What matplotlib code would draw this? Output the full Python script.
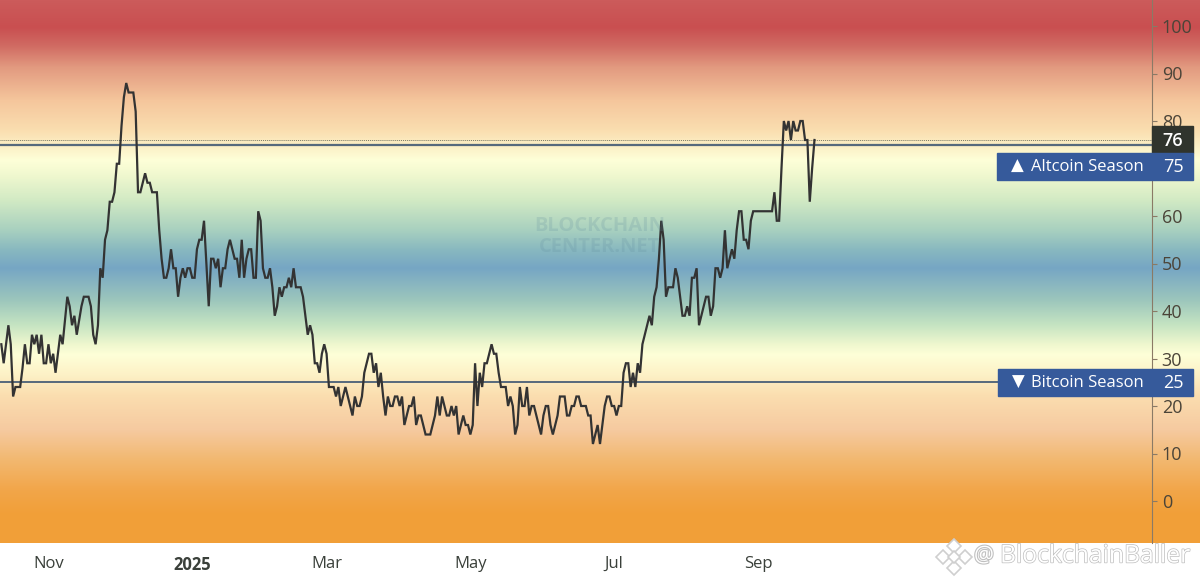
import numpy as np
import matplotlib
matplotlib.use('Agg')
import matplotlib.pyplot as plt
import matplotlib.patheffects as pe
from matplotlib.colors import LinearSegmentedColormap
from matplotlib.patches import Rectangle

plt.rcParams['font.family'] = ['Open Sans', 'DejaVu Sans']

# altcoin season index, one value per bar
index_values = [
    33, 29, 33, 37, 33, 22, 24, 24, 24, 28, 33, 29, 29, 35, 33, 35, 31, 35, 29, 29,
    33, 29, 31, 27, 31, 35, 33, 38, 43, 41, 37, 39, 35, 38, 41, 43, 43, 43, 41, 35,
    33, 37, 49, 47, 55, 57, 63, 63, 65, 71, 71, 79, 85, 88, 86, 86, 86, 82, 65, 65,
    67, 69, 67, 67, 65, 65, 65, 57, 51, 47, 47, 49, 53, 49, 49, 43, 47, 49, 47, 49,
    49, 47, 47, 53, 55, 55, 59, 50, 41, 51, 51, 49, 51, 45, 49, 49, 53, 55, 53, 51,
    51, 47, 55, 47, 51, 53, 53, 47, 47, 61, 59, 49, 47, 47, 49, 45, 39, 41, 45, 43,
    45, 45, 47, 45, 49, 45, 45, 45, 43, 39, 35, 37, 35, 29, 29, 27, 31, 33, 31, 24,
    24, 24, 22, 24, 20, 22, 24, 22, 20, 18, 22, 20, 20, 22, 27, 29, 31, 31, 27, 29,
    24, 27, 22, 18, 22, 20, 20, 22, 22, 20, 22, 16, 18, 20, 20, 22, 16, 18, 18, 16,
    14, 14, 14, 16, 18, 22, 18, 22, 20, 18, 18, 20, 18, 20, 14, 16, 18, 16, 16, 14,
    16, 29, 20, 27, 24, 29, 29, 31, 33, 31, 31, 27, 24, 24, 24, 20, 22, 20, 14, 16,
    24, 20, 20, 24, 18, 20, 20, 18, 16, 14, 18, 20, 20, 16, 14, 16, 18, 22, 22, 22,
    18, 18, 20, 20, 22, 22, 20, 20, 20, 18, 18, 12, 14, 16, 12, 16, 20, 22, 22, 20,
    20, 18, 20, 20, 27, 29, 29, 24, 27, 24, 29, 27, 33, 35, 37, 39, 37, 43, 45, 51,
    59, 55, 43, 45, 45, 45, 49, 47, 43, 39, 39, 41, 39, 47, 47, 49, 37, 39, 41, 43,
    43, 39, 41, 49, 49, 47, 49, 57, 49, 51, 53, 51, 57, 61, 61, 55, 55, 53, 59, 61,
    61, 61, 61, 61, 61, 61, 61, 61, 65, 59, 59, 70, 80, 78, 80, 76, 80, 78, 78, 80,
    80, 76, 76, 63, 70, 76,
]
tick_bars = [20, 81, 138, 199, 260, 321]
tick_labels = ['Nov', '2025', 'Mar', 'May', 'Jul', 'Sep']
y_ticks = [0, 10, 20, 30, 40, 50, 60, 80, 90, 100]  # 70 sits under the altcoin tag
altcoin_level = 75
bitcoin_level = 25
last_level = 76

# background colours from top of the plot down, position is pixel row / 543
grad_rows = [0, 27, 45, 67, 100, 130, 160, 175, 200, 230, 250, 268, 300, 325, 345, 355, 375, 395, 430, 460, 490, 515, 543]
grad_colors = ['#cc5b5b', '#c94f50', '#d06a62', '#e29a80', '#f5c69c', '#fadeb0', '#feffd8', '#f0f8cf',
               '#d2eac4', '#a8d0bf', '#88b8c0', '#76a6c4', '#9cc6bc', '#c5e4c2', '#f0f8cf', '#feffd8',
               '#fdf1c6', '#fbdeb0', '#f6caa0', '#f2b870', '#f2a64a', '#f19f38', '#f19f38']
cmap = LinearSegmentedColormap.from_list('season', [(r / 543, c) for r, c in zip(grad_rows, grad_colors)], N=543)

fig = plt.figure(figsize=(12, 5.82), dpi=100, facecolor='white')
H = 582.0

bg = fig.add_axes([0, 39 / H, 1, 543 / H])
bg.imshow(np.linspace(0, 1, 543).reshape(-1, 1), aspect='auto', cmap=cmap, vmin=0, vmax=1)
bg.axis('off')

ax = fig.add_axes([0, 39 / H, 1152 / 1200, 543 / H])
ax.patch.set_alpha(0)
ax.set_xlim(-0.56, 488.2)
ax.set_ylim((501 - 543) / 4.75, 501 / 4.75)

ax.axhline(altcoin_level, color='#56697c', lw=1.6)
ax.axhline(bitcoin_level, color='#56697c', lw=1.4)
ax.axhline(last_level, color='#7a7a68', lw=0.7, ls=(0, (1, 1)))
ax.plot(np.arange(len(index_values)), index_values, color='#333333', lw=1.6, solid_joinstyle='miter')

for s in ['left', 'top', 'bottom']:
    ax.spines[s].set_visible(False)
ax.spines['right'].set_color('#8a7a66')
ax.spines['right'].set_linewidth(0.8)

ax.yaxis.tick_right()
ax.set_yticks(y_ticks)
ax.set_yticklabels([str(v) for v in y_ticks], fontsize=13, color='#4b4438')
ax.tick_params(axis='y', length=3.5, width=0.8, color='#8a7a66', pad=3.5)

ax.set_xticks(tick_bars)
ax.set_xticklabels(tick_labels, fontsize=12, color='#3a403a')
ax.tick_params(axis='x', length=0, pad=9)
for lab in ax.get_xticklabels():
    if lab.get_text() == '2025':
        lab.set_fontweight('bold')

# overlay in pixel coordinates for the tags and watermarks
top = fig.add_axes([0, 0, 1, 1])
top.set_xlim(0, 1200)
top.set_ylim(582, 0)
top.axis('off')
top.patch.set_alpha(0)

top.text(600, 226, 'BLOCKCHAIN', ha='center', va='center', fontsize=14.5, fontweight='bold', color='#5f8a9c', alpha=0.2)
top.text(600, 247, 'CENTER.NET', ha='center', va='center', fontsize=14.5, fontweight='bold', color='#5f8a9c', alpha=0.2)

top.add_patch(Rectangle((1152, 126), 41, 27, color='#30342d', zorder=3))
top.text(1173, 141, str(last_level), ha='center', va='center', fontsize=13, fontweight='semibold', color='white', zorder=4)

top.add_patch(Rectangle((997, 153), 196, 27, color='#365a9b', zorder=3))
top.text(1031, 167, 'Altcoin Season', ha='left', va='center', fontsize=12, color='white', zorder=4)
top.text(1017, 167, '▲', ha='center', va='center', fontsize=12, color='white', zorder=4)
top.text(1173, 167, str(altcoin_level), ha='center', va='center', fontsize=13, color='white', zorder=4)

top.add_patch(Rectangle((998, 369), 195, 27, color='#365a9b', zorder=3))
top.text(1031, 383, 'Bitcoin Season', ha='left', va='center', fontsize=12, color='white', zorder=4)
top.text(1018, 383, '▼', ha='center', va='center', fontsize=12, color='white', zorder=4)
top.text(1173, 383, str(bitcoin_level), ha='center', va='center', fontsize=13, color='white', zorder=4)

# binance style mark and handle at the bottom right
for cx, cy, size in [(954, 546, 7), (943, 557, 7), (965, 557, 7), (954, 568, 7), (954, 557, 6)]:
    top.plot(cx, cy, marker='D', ms=size, mfc='white', mec='#cfcfcf', mew=1.2, zorder=5)
handle = top.text(974, 556, '@', ha='left', va='center', fontsize=16, color='white', zorder=5)
handle.set_path_effects([pe.withStroke(linewidth=1.6, foreground='#c0c0c0')])
name = top.text(1000, 556, 'BlockchainBaller', ha='left', va='center', fontsize=17.8, color='white', zorder=5)
name.set_path_effects([pe.withStroke(linewidth=1.0, foreground='#bdbdbd')])

fig.savefig('out.png', dpi=100)
